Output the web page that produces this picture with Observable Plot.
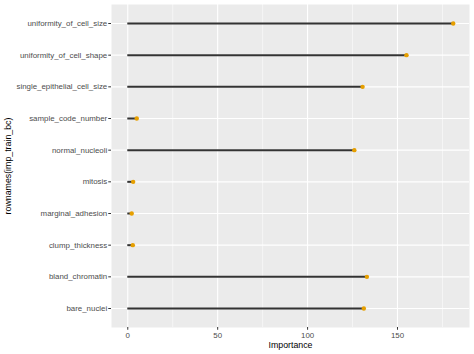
<!DOCTYPE html>
<html><head>
<meta charset="utf-8">
<script src="https://cdn.jsdelivr.net/npm/d3@7"></script>
<script src="https://cdn.jsdelivr.net/npm/@observablehq/plot@0.6"></script>
<style>html,body{margin:0;padding:0;background:#fff;} svg{display:block}</style>
</head><body><div id="chart"></div>
<script>
const variables = ["uniformity_of_cell_size","uniformity_of_cell_shape","single_epithelial_cell_size","sample_code_number","normal_nucleoli","mitosis","marginal_adhesion","clump_thickness","bland_chromatin","bare_nuclei"];
const importance = [181, 155, 130.6, 5, 126, 3, 2.2, 2.8, 133, 131.3];
const xTicks = [0, 50, 100, 150];
const xMinor = [25, 75, 125, 175];
const xTitle = "Importance";
const yTitle = "rownames(imp_train_bc)";
const data = variables.map((v, i) => ({variable: v, importance: importance[i]}));
const font = "'Liberation Sans', Arial, Helvetica, sans-serif";
const chart = Plot.plot({
  width: 474, height: 354,
  marginLeft: 111, marginRight: 5, marginTop: 4, marginBottom: 27,
  style: {fontFamily: font, fontSize: "7.9px", background: "#fff", color: "#4D4D4D", overflow: "visible"},
  x: {domain: [-9.05, 190.05]},
  y: {type: "point", domain: variables, padding: 0.6, round: false},
  marks: [
    Plot.frame({fill: "#EBEBEB", stroke: null}),
    Plot.ruleX(xMinor, {stroke: "#fff", strokeWidth: 0.55}),
    Plot.ruleX(xTicks, {stroke: "#fff", strokeWidth: 1.1}),
    Plot.ruleY(variables, {y: d => d, stroke: "#fff", strokeWidth: 1.1}),
    Plot.axisX({ticks: xTicks, tickSize: 2.75, tickPadding: 1.8, stroke: "#333", fill: "#4D4D4D", fontSize: 7.9, label: null, tickFormat: d => d}),
    Plot.axisY({tickSize: 2.75, tickPadding: 1.5, stroke: "#333", fill: "#4D4D4D", fontSize: 7.9, label: null}),
    Plot.ruleY(data, {y: "variable", x1: 0, x2: "importance", stroke: "#333", strokeWidth: 2}),
    Plot.dot(data, {y: "variable", x: "importance", r: 2.2, fill: "#E69F00", stroke: null}),
    Plot.text([xTitle], {frameAnchor: "bottom", lineAnchor: "middle", textAnchor: "middle", dy: 18, fontSize: 8.8, fill: "black"}),
    Plot.text([yTitle], {frameAnchor: "left", lineAnchor: "middle", textAnchor: "middle", dx: -103, rotate: -90, fontSize: 8.8, fill: "black"})
  ]
});
document.getElementById("chart").appendChild(chart);
</script>
</body></html>
